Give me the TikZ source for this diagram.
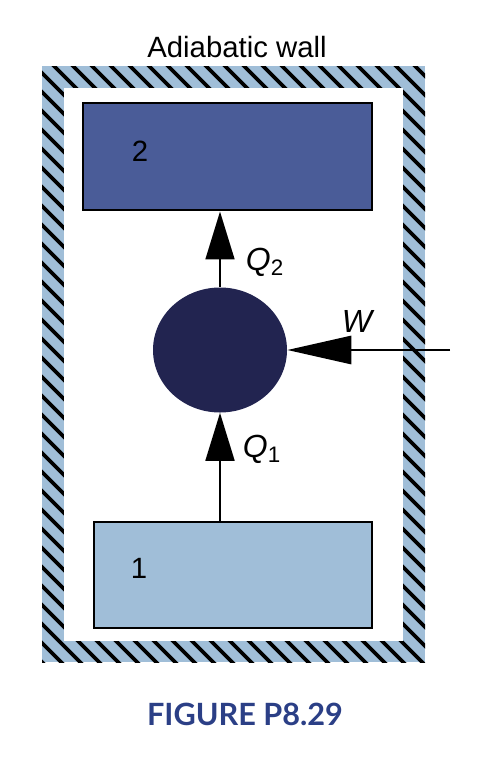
\documentclass[tikz,border=0pt]{standalone}
\usepackage{fontspec}
\setsansfont{Liberation Sans}
\newfontfamily\capfont{Lato}
\usetikzlibrary{arrows.meta,positioning,calc,shapes.geometric}
\definecolor{wallblue}{RGB}{160,190,216}
\definecolor{hotblue}{RGB}{74,92,152}
\definecolor{engblue}{RGB}{34,36,80}
\definecolor{capblue}{RGB}{43,63,134}
\tikzset{
  tartaly/.style={draw,line width=2.2pt,inner sep=0pt},
  gep/.style={ellipse,fill=engblue,inner sep=0pt,minimum width=100.5pt,minimum height=93.75pt},
  cimke/.style={font=\sffamily\fontsize{22}{26}\selectfont,inner sep=0pt},
  qcimke/.style={font=\sffamily\fontsize{24}{28}\selectfont,inner sep=0pt},
  hnyil/.style={line width=2.2pt,-{Triangle[length=36pt,width=21.5pt]}},
  wnyil/.style={line width=2.2pt,-{Triangle[length=48pt,width=21pt]}},
  csik/.style={line width=2.9pt,black},
}
\begin{document}
\begin{tikzpicture}[x=0.75pt,y=-0.75pt]
  \useasboundingbox (0,0) rectangle (490,764);
  % adiabatic wall
  \fill[wallblue] (42,66) rectangle (425,662);
  \begin{scope}
    \clip (42,66) rectangle (425,662);
    \foreach \k in {0,...,53}
      \draw[csik] ({-560+\k*19},60) -- ({50+\k*19},670);
  \end{scope}
  \fill[white] (64,88) rectangle (403,641);
  \node[cimke] (fal) at (237,47) {Adiabatic wall};
  % reservoirs and engine
  \node[tartaly,fill=hotblue,minimum width=216.75pt,minimum height=80.25pt] (hot) at (227.5,156.5) {};
  \node[tartaly,fill=wallblue,minimum width=208.5pt,minimum height=79.5pt] (cold) at (233,575) {};
  \node[cimke] (hotlbl) at (140,151) {2};
  \node[cimke] (coldlbl) at (139,568) {1};
  \node[gep] (eng) at (220,350) {};
  \coordinate (wbe) at (450,350);
  % energy flows
  \draw[hnyil] (eng.north) -- (eng.north |- hot.south);
  \draw[hnyil] (eng.south |- cold.north) -- (eng.south);
  \draw[wnyil] (wbe) -- (eng.east);
  \node[qcimke] (q2) at (265,262) {\itshape Q\textsubscript{\upshape 2}};
  \node[qcimke] (q1) at (262,449) {\itshape Q\textsubscript{\upshape 1}};
  \node[qcimke] (w) at (357,321) {\itshape W};
  % caption
  \node[font=\capfont\bfseries\fontsize{23}{27}\selectfont,text=capblue,inner sep=0pt] (cap) at (245,714) {FIGURE P8.29};
\end{tikzpicture}
\end{document}
